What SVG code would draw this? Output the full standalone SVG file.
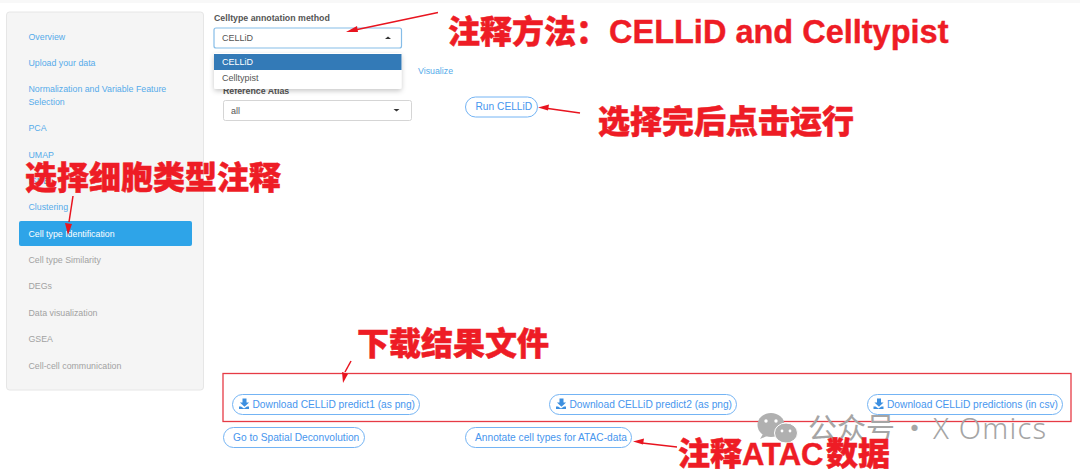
<svg xmlns="http://www.w3.org/2000/svg" width="1080" height="472" viewBox="0 0 1080 472">
<defs>
<style>
text{font-family:"Liberation Sans",Arial,sans-serif}
.nav{font-size:8.800px;fill:#55abea}
.off{font-size:8.800px;fill:#a2a2a2}
.btn{fill:#fff;stroke:#74b4f4;stroke-width:1}
.bt{font-size:10.200px;fill:#4796ee}
.cn{font-family:"Noto Sans CJK SC","Liberation Sans",sans-serif;font-weight:900;fill:#ee1c25;stroke:#ee1c25;stroke-width:.5}
.la{font-weight:700;fill:#ee1c25;stroke:#ee1c25;stroke-width:.4}
.arr{stroke:#e8141f;stroke-width:1.500;fill:none}
.head{fill:#e8141f}
.sel{fill:#fff;stroke:#d5d5d5}
.dark{font-size:9px;fill:#555}
.wm{fill:#a5a5a5;font-family:"Noto Sans CJK SC","Liberation Sans",sans-serif;font-size:29px}
</style>
<filter id="sh" x="-5%" y="-20%" width="110%" height="150%"><feDropShadow dx="0" dy="2" stdDeviation="2.500" flood-color="#000" flood-opacity=".22"/></filter>
<g id="dl"><path d="M-2 -5.500h4v4h2.600l-4.600 4.200-4.600-4.200h2.600z M-5.500 2.500h2l3 2 3-2h2v2.500h-10z" fill="#3c8fe0"/></g>
</defs>
<rect width="1080" height="472" fill="#fff"/>
<rect width="1080" height="3" fill="#f8f8f8"/>
<g id="sidebar">
<rect x="6.500" y="12" width="197" height="378" rx="3" fill="#f5f5f5" stroke="#e6e6e6"/>
<rect x="19" y="221" width="173" height="25" rx="2" fill="#2ea4e8"/>
<text class="nav" x="28.500" y="39.500">Overview</text>
<text class="nav" x="28.500" y="66">Upload your data</text>
<text class="nav" x="28.500" y="92">Normalization and Variable Feature</text>
<text class="nav" x="28.500" y="105">Selection</text>
<text class="nav" x="28.500" y="131">PCA</text>
<text class="nav" x="28.500" y="157.500">UMAP</text>
<text class="nav" x="28.500" y="184">tSNE</text>
<text class="nav" x="28.500" y="210">Clustering</text>
<text x="28.500" y="236.500" font-size="8.800" fill="#fff">Cell type Identification</text>
<text class="off" x="28.500" y="263">Cell type Similarity</text>
<text class="off" x="28.500" y="289">DEGs</text>
<text class="off" x="28.500" y="315.500">Data visualization</text>
<text class="off" x="28.500" y="342">GSEA</text>
<text class="off" x="28.500" y="368.500">Cell-cell communication</text>
</g>
<g id="tabs"><text class="nav" x="418" y="74">Visualize</text></g>
<g id="atlas">
<text x="223" y="94" font-size="8.800" font-weight="700" fill="#555">Reference Atlas</text>
<rect class="sel" x="223.500" y="100.500" width="188" height="20" rx="2"/>
<text class="dark" x="231" y="114">all</text>
<path d="M393.500 109h6l-3 2.500z" fill="#333"/>
</g>
<g id="method">
<text x="214" y="20.500" font-size="8.800" font-weight="700" fill="#555">Celltype annotation method</text>
<rect x="214" y="28" width="187.500" height="20" rx="2" fill="#fff" stroke="#86bde8" stroke-width="1.200"/>
<text class="dark" x="222" y="41">CELLiD</text>
<path d="M385 39l3-2.500 3 2.500z" fill="#333"/>
<rect x="214" y="53" width="187.500" height="36" rx="2" fill="#fff" filter="url(#sh)"/>
<rect x="214" y="54" width="187.500" height="16" fill="#337ab7"/>
<text x="222" y="65" font-size="9" fill="#fff">CELLiD</text>
<text class="dark" x="222" y="81">Celltypist</text>
</g>
<g id="run"><rect class="btn" x="465.500" y="97" width="72" height="20" rx="10"/><text class="bt" x="475.500" y="110">Run CELLiD</text></g>
<g id="download-box">
<rect x="223" y="373.500" width="848" height="48" fill="none" stroke="#e63b45" stroke-width="1.300"/>
</g>
<g id="dl1"><rect class="btn" x="232.500" y="394.500" width="187" height="20" rx="10"/><use href="#dl" x="244.500" y="404"/><text class="bt" x="252.500" y="407.800">Download CELLiD predict1 (as png)</text></g>
<g id="dl2"><rect class="btn" x="549.500" y="394.500" width="187" height="20" rx="10"/><use href="#dl" x="561.500" y="404"/><text class="bt" x="569.500" y="407.800">Download CELLiD predict2 (as png)</text></g>
<g id="dl3"><rect class="btn" x="867.500" y="394.500" width="195" height="20" rx="10"/><use href="#dl" x="879" y="404"/><text class="bt" x="887" y="407.800">Download CELLiD predictions (in csv)</text></g>
<g id="spatial"><rect class="btn" x="223.500" y="427.500" width="141" height="20" rx="10"/><text class="bt" x="233" y="440.800">Go to Spatial Deconvolution</text></g>
<g id="atac"><rect class="btn" x="465.500" y="427.500" width="166" height="20" rx="10"/><text class="bt" x="475" y="440.800">Annotate cell types for ATAC-data</text></g>
<g id="watermark">
<ellipse cx="771" cy="425" rx="13.500" ry="12" fill="#b0b0b0"/>
<path d="M763 434l-3 5 7-3z" fill="#b0b0b0"/>
<ellipse cx="786" cy="433" rx="11.500" ry="10" fill="#b0b0b0" stroke="#fff"/>
<circle cx="766" cy="421" r="1.700" fill="#fff"/><circle cx="776" cy="421" r="1.700" fill="#fff"/>
<circle cx="782" cy="431" r="1.400" fill="#fff"/><circle cx="790" cy="431" r="1.400" fill="#fff"/>
<text class="wm" x="808" y="439">公众号</text>
<text class="wm" x="900" y="439">·</text>
<text class="wm" x="933" y="439" textLength="113" style="font-family:'Noto Sans','Liberation Sans',sans-serif;font-weight:300">X Omics</text>
</g>
<g id="labels">
<text class="cn" x="448" y="43" font-size="32">注释方法：</text>
<text class="la" x="609" y="43" font-size="32.500">CELLiD and Celltypist</text>
<text class="cn" x="598" y="133" font-size="32">选择完后点击运行</text>
<text class="cn" x="25" y="189" font-size="32">选择细胞类型注释</text>
<text class="cn" x="357" y="355" font-size="32">下载结果文件</text>
<text class="cn" x="678" y="465" font-size="32">注释</text>
<text class="la" x="742" y="465" font-size="31">ATAC</text>
<text class="cn" x="826" y="465" font-size="32">数据</text>
</g>
<g id="connectors">
<path class="arr" d="M438 12.500L355 30"/><path class="head" d="M346 32l11-6 1 6z"/>
<path class="arr" d="M580 113L548 108.500"/><path class="head" d="M538 107.500l11-3-1 6z"/>
<path class="arr" d="M73 196L69 222"/><path class="head" d="M68 235l-3-12 7 1z"/>
<path class="arr" d="M351 361L345 372"/><path class="head" d="M343 383l-1-11 6 2z"/>
<path class="arr" d="M677 447L642 443"/><path class="head" d="M633 441.500l11-3-1 6z"/>
</g>
</svg>
